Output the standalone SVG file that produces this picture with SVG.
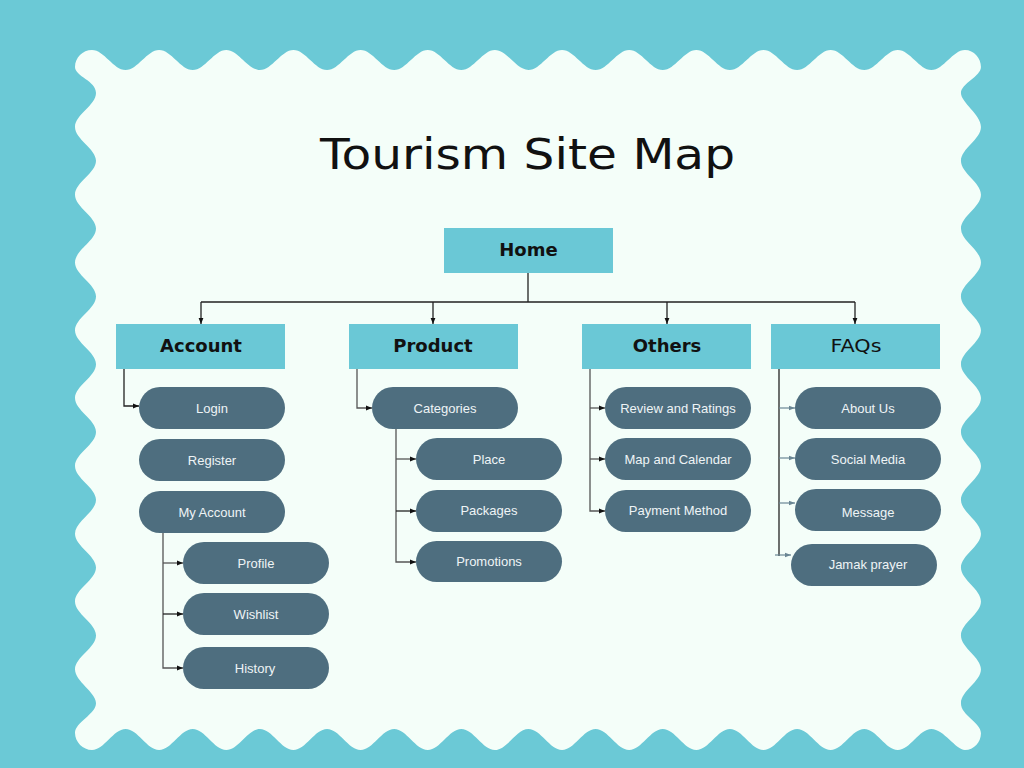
<svg xmlns="http://www.w3.org/2000/svg" width="1024" height="768" viewBox="0 0 1024 768">
<defs>
<style>
.hdr{fill:#6AC8D6}
.pill{fill:#4E6E7F}
.ht{font-family:"DejaVu Sans",sans-serif;font-size:18px;font-weight:bold;fill:#111;text-anchor:middle}
.htn{font-weight:normal}
.pt{font-family:"Liberation Sans",Arial,sans-serif;font-size:13px;fill:#EEF4F6;text-anchor:middle}
.ln{fill:none;stroke:#222;stroke-width:1.3}
.lg{fill:none;stroke:#555;stroke-width:1.3}
.lb{fill:none;stroke:#6A8694;stroke-width:1.2}
</style>
<marker id="ah" viewBox="0 0 6 6" refX="6" refY="3" markerWidth="6" markerHeight="6" orient="auto" markerUnits="userSpaceOnUse"><path d="M0,0.6 L6,3 L0,5.4 Z" fill="#111"/></marker>
<marker id="ahb" viewBox="0 0 6 6" refX="6" refY="3" markerWidth="6" markerHeight="6" orient="auto" markerUnits="userSpaceOnUse"><path d="M0,0.8 L6,3 L0,5.2 Z" fill="#6A8694"/></marker>
</defs>
<rect width="1024" height="768" fill="#6BC9D6"/>
<path id="frame" fill="#F4FEF9" d="M92,50 c12.22,0 21.355,20 33.575,20
s21.355,-20 33.575,-20 s21.355,20 33.575,20 s21.355,-20 33.575,-20 s21.355,20 33.575,20
s21.355,-20 33.575,-20 s21.355,20 33.575,20 s21.355,-20 33.575,-20 s21.355,20 33.575,20
s21.355,-20 33.575,-20 s21.355,20 33.575,20 s21.355,-20 33.575,-20 s21.355,20 33.575,20
s21.355,-20 33.575,-20 s21.355,20 33.575,20 s21.355,-20 33.575,-20 s21.355,20 33.575,20
s21.355,-20 33.575,-20 s21.355,20 33.575,20 s21.355,-20 33.575,-20 s21.355,20 33.575,20
s21.355,-20 33.575,-20 s21.355,20 33.575,20 s21.355,-20 33.575,-20 s21.355,20 33.575,20
s21.355,-20 33.575,-20
c9,0 16,8 16,17 c0,9.5 -20,16.5 -20,26
s20,21.56 20,33.9 s-20,21.56 -20,33.9 s20,21.56 20,33.9 s-20,21.56 -20,33.9
s20,21.56 20,33.9 s-20,21.56 -20,33.9 s20,21.56 20,33.9 s-20,21.56 -20,33.9
s20,21.56 20,33.9 s-20,21.56 -20,33.9 s20,21.56 20,33.9 s-20,21.56 -20,33.9
s20,21.56 20,33.9 s-20,21.56 -20,33.9 s20,21.56 20,33.9 s-20,21.56 -20,33.9
s20,21.56 20,33.9 s-20,21.56 -20,33.9
s20,19 20,30 c0,9 -7,16.8 -16,16.8
s-21.355,-21 -33.575,-21 s-21.355,21 -33.575,21 s-21.355,-21 -33.575,-21 s-21.355,21 -33.575,21
s-21.355,-21 -33.575,-21 s-21.355,21 -33.575,21 s-21.355,-21 -33.575,-21 s-21.355,21 -33.575,21
s-21.355,-21 -33.575,-21 s-21.355,21 -33.575,21 s-21.355,-21 -33.575,-21 s-21.355,21 -33.575,21
s-21.355,-21 -33.575,-21 s-21.355,21 -33.575,21 s-21.355,-21 -33.575,-21 s-21.355,21 -33.575,21
s-21.355,-21 -33.575,-21 s-21.355,21 -33.575,21 s-21.355,-21 -33.575,-21 s-21.355,21 -33.575,21
s-21.355,-21 -33.575,-21 s-21.355,21 -33.575,21 s-21.355,-21 -33.575,-21 s-21.355,21 -33.575,21
s-21.355,-21 -33.575,-21 s-21.355,21 -33.575,21
c-9,0 -17,-8 -17,-17 c0,-11 21,-18.8 21,-29.8
s-21,-21.56 -21,-33.9 s21,-21.56 21,-33.9 s-21,-21.56 -21,-33.9 s21,-21.56 21,-33.9
s-21,-21.56 -21,-33.9 s21,-21.56 21,-33.9 s-21,-21.56 -21,-33.9 s21,-21.56 21,-33.9
s-21,-21.56 -21,-33.9 s21,-21.56 21,-33.9 s-21,-21.56 -21,-33.9 s21,-21.56 21,-33.9
s-21,-21.56 -21,-33.9 s21,-21.56 21,-33.9 s-21,-21.56 -21,-33.9 s21,-21.56 21,-33.9
s-21,-21.56 -21,-33.9 s21,-21.56 21,-33.9
s-21,-16.5 -21,-26 c0,-9.4 7.6,-17 17,-17 Z"/>
<text id="title" x="527.5" y="169" font-family="DejaVu Sans, sans-serif" font-size="43" fill="#111" text-anchor="middle" textLength="415" lengthAdjust="spacingAndGlyphs">Tourism Site Map</text>
<g id="connectors">
<path class="ln" d="M528,273 V302 M201,302 H855"/>
<path class="ln" d="M201,302 V324" marker-end="url(#ah)"/>
<path class="ln" d="M433,302 V324" marker-end="url(#ah)"/>
<path class="ln" d="M667,302 V324" marker-end="url(#ah)"/>
<path class="ln" d="M855,302 V324" marker-end="url(#ah)"/>
<path class="ln" d="M124,369 V406 H139" marker-end="url(#ah)"/>
<path class="lg" d="M163,533 V668 H183" marker-end="url(#ah)"/>
<path class="lg" d="M163,563 H183" marker-end="url(#ah)"/>
<path class="ln" d="M163,614 H183" marker-end="url(#ah)"/>
<path class="lg" d="M357,369 V408 H372" marker-end="url(#ah)"/>
<path class="lg" d="M396,429 V562 H416" marker-end="url(#ah)"/>
<path class="lg" d="M396,459 H416" marker-end="url(#ah)"/>
<path class="ln" d="M396,511 H416" marker-end="url(#ah)"/>
<path class="lg" d="M590,369 V511 H605" marker-end="url(#ah)"/>
<path class="lg" d="M590,408 H605" marker-end="url(#ah)"/>
<path class="lg" d="M590,459 H605" marker-end="url(#ah)"/>
<path class="ln" d="M779,369 V556"/>
<path class="lb" d="M779,408 H795" marker-end="url(#ahb)"/>
<path class="lb" d="M779,458 H795" marker-end="url(#ahb)"/>
<path class="lb" d="M779,503 H795" marker-end="url(#ahb)"/>
<path class="lb" d="M775,555 H791" marker-end="url(#ahb)"/>
</g>
<g id="home"><rect class="hdr" x="444" y="228" width="169" height="45"/><text class="ht" x="528.5" y="256">Home</text></g>
<g id="account"><rect class="hdr" x="116" y="324" width="169" height="45"/><text class="ht" x="201" y="352">Account</text></g>
<g id="product"><rect class="hdr" x="349" y="324" width="169" height="45"/><text class="ht" x="433" y="352">Product</text></g>
<g id="others"><rect class="hdr" x="582" y="324" width="169" height="45"/><text class="ht" x="667" y="352">Others</text></g>
<g id="faqs"><rect class="hdr" x="771" y="324" width="169" height="45"/><text class="ht htn" x="856" y="352" textLength="51" lengthAdjust="spacingAndGlyphs">FAQs</text></g>
<g id="login"><rect class="pill" x="139" y="387" width="146" height="42" rx="21"/><text class="pt" x="212" y="412.5">Login</text></g>
<g id="register"><rect class="pill" x="139" y="439" width="146" height="42" rx="21"/><text class="pt" x="212" y="464.5">Register</text></g>
<g id="myaccount"><rect class="pill" x="139" y="491" width="146" height="42" rx="21"/><text class="pt" x="212" y="516.5">My Account</text></g>
<g id="profile"><rect class="pill" x="183" y="542" width="146" height="42" rx="21"/><text class="pt" x="256" y="567.5">Profile</text></g>
<g id="wishlist"><rect class="pill" x="183" y="593" width="146" height="42" rx="21"/><text class="pt" x="256" y="618.5">Wishlist</text></g>
<g id="history"><rect class="pill" x="183" y="647" width="146" height="42" rx="21"/><text class="pt" x="255" y="672.5">History</text></g>
<g id="categories"><rect class="pill" x="372" y="387" width="146" height="42" rx="21"/><text class="pt" x="445" y="412.5">Categories</text></g>
<g id="place"><rect class="pill" x="416" y="438" width="146" height="42" rx="21"/><text class="pt" x="489" y="463.5">Place</text></g>
<g id="packages"><rect class="pill" x="416" y="490" width="146" height="42" rx="21"/><text class="pt" x="489" y="515">Packages</text></g>
<g id="promotions"><rect class="pill" x="416" y="541" width="146" height="41" rx="20.5"/><text class="pt" x="489" y="566">Promotions</text></g>
<g id="review"><rect class="pill" x="605" y="387" width="146" height="42" rx="21"/><text class="pt" x="678" y="412.5">Review and Ratings</text></g>
<g id="mapcal"><rect class="pill" x="605" y="438" width="146" height="42" rx="21"/><text class="pt" x="678" y="463.5">Map and Calendar</text></g>
<g id="payment"><rect class="pill" x="605" y="490" width="146" height="42" rx="21"/><text class="pt" x="678" y="515">Payment Method</text></g>
<g id="aboutus"><rect class="pill" x="795" y="387" width="146" height="42" rx="21"/><text class="pt" x="868" y="412.5">About Us</text></g>
<g id="socialmedia"><rect class="pill" x="795" y="438" width="146" height="42" rx="21"/><text class="pt" x="868" y="463.5">Social Media</text></g>
<g id="message"><rect class="pill" x="795" y="489" width="146" height="42" rx="21"/><text class="pt" x="868" y="516.5">Message</text></g>
<g id="jamak"><rect class="pill" x="791" y="544" width="146" height="42" rx="21"/><text class="pt" x="868" y="568.5">Jamak prayer</text></g>
</svg>
